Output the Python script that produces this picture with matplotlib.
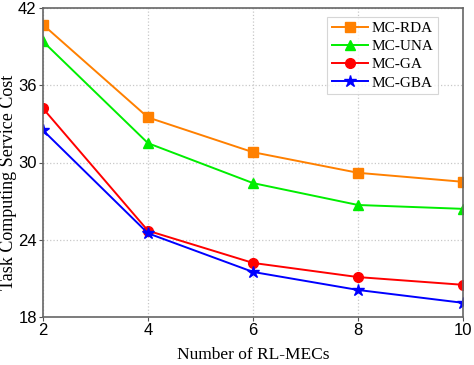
import matplotlib.pyplot as plt

num_mecs = [2, 4, 6, 8, 10]
mc_rda = [40.7, 33.5, 30.8, 29.2, 28.5]
mc_una = [39.4, 31.5, 28.4, 26.7, 26.4]
mc_ga = [34.2, 24.7, 22.2, 21.1, 20.5]
mc_gba = [32.5, 24.5, 21.5, 20.1, 19.1]

series = [
    ("MC-RDA", mc_rda, "#ff8000", "s"),
    ("MC-UNA", mc_una, "#00ee00", "^"),
    ("MC-GA", mc_ga, "#ff0000", "o"),
    ("MC-GBA", mc_gba, "#0000ff", "*"),
]

fig = plt.figure(figsize=(4.74, 3.65), dpi=100)
ax = fig.add_axes([43 / 474, 1 - 317 / 365, 420 / 474, 309 / 365])

for name, vals, color, marker in series:
    ms = 9 if marker == "*" else 7
    ax.plot(num_mecs, vals, color=color, marker=marker, markersize=ms,
            linewidth=1.4, label=name)

ax.set_xlim(2, 10)
ax.set_ylim(18, 42)
ax.set_xticks(num_mecs)
ax.set_yticks([18, 24, 30, 36, 42])
ax.grid(True, linestyle=":", color="#c8c8c8", linewidth=0.9)
ax.tick_params(labelsize=12, direction="out", length=3, pad=1.5, color="#555555")
for lbl in ax.get_xticklabels() + ax.get_yticklabels():
    lbl.set_fontfamily("Liberation Sans")
for sp in ax.spines.values():
    sp.set_color("#666666")
    sp.set_linewidth(1.2)

ax.set_xlabel("Number of RL-MECs", fontfamily="Liberation Serif", fontsize=12.5, labelpad=6)
ax.set_ylabel("Task Computing Service Cost", fontfamily="Liberation Serif", fontsize=13)
ax.yaxis.set_label_coords(-26 / 420, 135 / 309)

leg = ax.legend(loc="upper right", bbox_to_anchor=(0.94, 0.972),
                prop={"family": "Liberation Serif", "size": 11},
                fancybox=False, edgecolor="#cccccc", borderpad=0.3, labelspacing=0.3,
                handlelength=2.4, handletextpad=0.2, borderaxespad=0)
leg.get_frame().set_linewidth(0.8)

fig.savefig("out.png", dpi=100)
